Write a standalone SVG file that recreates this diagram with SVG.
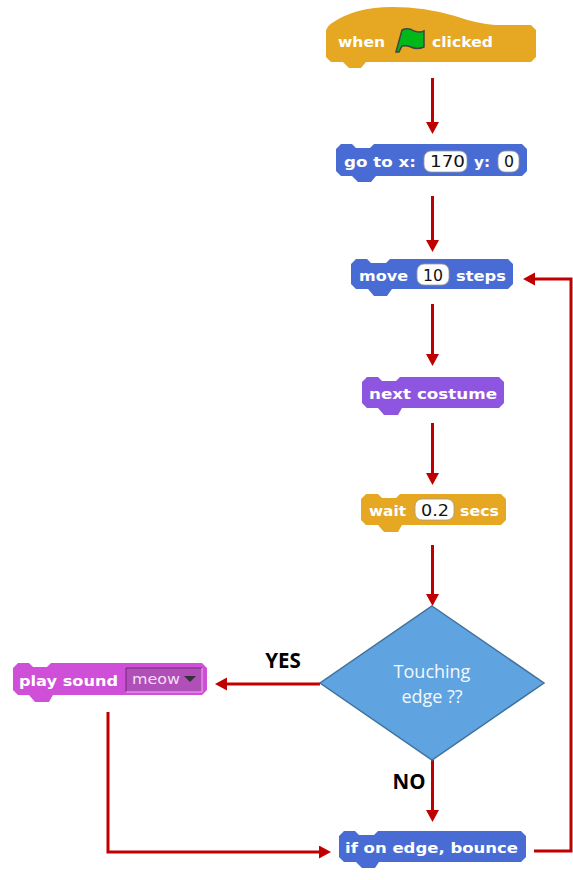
<svg xmlns="http://www.w3.org/2000/svg" width="573" height="880" viewBox="0 0 573 880">
<defs>
<marker id="ah" markerUnits="userSpaceOnUse" markerWidth="14" markerHeight="14" refX="6" refY="6.500" orient="auto"><path d="M0,0 L12,6.500 L0,13 Z" fill="#c00000"/></marker>
<filter id="soft" x="-5%" y="-10%" width="110%" height="120%"><feGaussianBlur stdDeviation="0.5"/></filter>
</defs>
<style>
.b{font-family:"DejaVu Sans",sans-serif;font-weight:bold;font-size:14.5px;fill:#fff}
.v{font-family:"DejaVu Sans",sans-serif;font-size:15px;fill:#111}
.s{filter:url(#soft)}
.f{fill:#fff;stroke:#999;stroke-width:.8}
.c{fill:none;stroke:#c00000;stroke-width:3}
.a{marker-end:url(#ah)}
.l{font-family:"Open Sans",sans-serif;font-weight:bold;font-size:20.5px;fill:#000;text-anchor:middle}
.d{font-family:"Open Sans",sans-serif;font-size:18px;fill:#f4f8fc;text-anchor:middle}
</style>
<g id="connectors">
<path class="c a" d="M432.500,78V128"/>
<path class="c a" d="M432.500,196V246"/>
<path class="c a" d="M432.500,304V360"/>
<path class="c a" d="M432.500,423V479"/>
<path class="c a" d="M432.500,545V600"/>
<path class="c a" d="M320,684H221"/>
<path class="c a" d="M432.500,760V816"/>
<path class="c a" d="M534,851H571V279H529"/>
<path class="c a" d="M108,712V852H325"/>
</g>
<g id="start">
<path class="s" fill="#e6a822" d="M326,32 Q326,27 332,23 Q355,7 392,7 Q425,7 455,16 Q478,24 495,25 H531 L536,30 V57 L531,62 H366 L361,68 H349 L343,62 H331 L326,57 Z"/>
<text class="b" x="338" y="47" textLength="47" lengthAdjust="spacingAndGlyphs">when</text>
<path d="M396,52 L402,30 Q408,27 414,31 Q420,33 424,31 L424,47 Q417,50 411,47 Q406,45 402,46 L399,52 Z" fill="#00b818" stroke="#444" stroke-width="1.500"/>
<text class="b" x="432" y="47" textLength="61" lengthAdjust="spacingAndGlyphs">clicked</text>
</g>
<g id="goto">
<path class="s" fill="#4a6cd4" d="M341,144 H352 L356,148 H370 L374,144 H522 L527,149 V171 L522,176 H376 L371,182 H358 L352,176 H341 L336,171 V149 Z"/>
<text class="b" x="344" y="167" textLength="72" lengthAdjust="spacingAndGlyphs">go to x:</text>
<rect class="f" x="424" y="151" width="43" height="21" rx="7"/>
<text class="v" x="430" y="167" textLength="35" lengthAdjust="spacingAndGlyphs">170</text>
<text class="b" x="474" y="167" textLength="16" lengthAdjust="spacingAndGlyphs">y:</text>
<rect class="f" x="498" y="151" width="21" height="21" rx="7"/>
<text class="v" x="504" y="167" textLength="10" lengthAdjust="spacingAndGlyphs">0</text>
</g>
<g id="move">
<path class="s" fill="#4a6cd4" d="M356,259 H367 L371,263 H386 L390,259 H508 L513,264 V284 L508,289 H392 L387,296 H374 L368,289 H356 L351,284 V264 Z"/>
<text class="b" x="359" y="281" textLength="49" lengthAdjust="spacingAndGlyphs">move</text>
<rect class="f" x="417" y="264" width="32" height="21" rx="7"/>
<text class="v" x="423" y="281" textLength="20" lengthAdjust="spacingAndGlyphs">10</text>
<text class="b" x="456" y="281" textLength="50" lengthAdjust="spacingAndGlyphs">steps</text>
</g>
<g id="costume">
<path class="s" fill="#8e55e0" d="M367,377 H378 L382,381 H396 L400,377 H499 L504,382 V403 L499,408 H402 L398,415 H384 L378,408 H367 L362,403 V382 Z"/>
<text class="b" x="369" y="399" textLength="128" lengthAdjust="spacingAndGlyphs">next costume</text>
</g>
<g id="wait">
<path class="s" fill="#e6a822" d="M366,494 H378 L382,498 H396 L400,494 H501 L506,499 V520 L501,525 H402 L398,532 H384 L378,525 H366 L361,520 V499 Z"/>
<text class="b" x="369" y="516" textLength="37" lengthAdjust="spacingAndGlyphs">wait</text>
<rect class="f" x="415" y="499" width="39" height="21" rx="7"/>
<text class="v" x="421" y="515.500" textLength="28" lengthAdjust="spacingAndGlyphs">0.2</text>
<text class="b" x="460" y="516" textLength="39" lengthAdjust="spacingAndGlyphs">secs</text>
</g>
<g id="decision">
<path fill="#5fa4e0" stroke="#41719c" stroke-width="1.500" d="M432,606 L544,683 L432,760 L320,683 Z"/>
<text class="d" x="432" y="678">Touching</text>
<text class="d" x="432" y="703">edge ??</text>
</g>
<g id="sound">
<path class="s" fill="#d04fd8" d="M18,663 H29 L33,667 H47 L51,663 H202 L207,668 V690 L202,695 H53 L49,702 H35 L29,695 H18 L13,690 V668 Z"/>
<text class="b" x="19" y="685.500" textLength="99" lengthAdjust="spacingAndGlyphs">play sound</text>
<rect x="126" y="668" width="76" height="24" fill="#b04fb8"/>
<path d="M126,692V668H202" fill="none" stroke="#6e2a75" stroke-width="1"/>
<path d="M126,692H202V668" fill="none" stroke="#e9b3ec" stroke-width="1"/>
<text class="b" x="132" y="684" textLength="48" lengthAdjust="spacingAndGlyphs" style="font-weight:normal;fill:#f3dff5">meow</text>
<path d="M184,676 H196 L190,682 Z" fill="#333"/>
</g>
<g id="bounce">
<path class="s" fill="#4a6cd4" d="M344,831 H355 L359,835 H374 L378,831 H521 L526,836 V857 L521,862 H379 L375,868 H362 L356,862 H344 L339,857 V836 Z"/>
<text class="b" x="345" y="853" textLength="173" lengthAdjust="spacingAndGlyphs">if on edge, bounce</text>
</g>
<g id="labels">
<text class="l" x="283" y="668">YES</text>
<text class="l" x="409" y="789">NO</text>
</g>
</svg>
